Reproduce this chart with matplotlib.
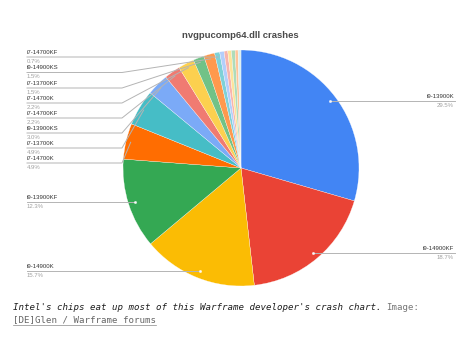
#!/usr/bin/env python3
"""Pie chart of nvgpucomp64.dll crashes per CPU model (Google Sheets look)."""
import numpy as np
import matplotlib
matplotlib.use("Agg")
import matplotlib.pyplot as plt

# ---- data (clockwise from 12 o'clock) ----
CPUS = ["i9-13900K", "i9-14900KF", "i9-14900K", "i9-13900KF", "i7-14700K",
        "i7-13700K", "i9-13900KS", "i7-14700KF", "i7-14700K", "i7-13700KF",
        "i9-14900KS", "i7-14700KF"]
SHARE = [29.5, 18.7, 15.7, 12.3, 4.9, 4.9, 3.0, 2.2, 2.2, 1.5, 1.5, 0.7]
# unlabelled slivers at the end of the pie
TINY = [0.6, 0.5, 0.5, 0.5, 0.4, 0.4]

COLORS = ["#4285F4", "#EA4335", "#FBBC04", "#34A853", "#FF6D01", "#46BDC6",
          "#7BAAF7", "#F07B72", "#FCD04F", "#71C287", "#FF994D", "#7ED1D7",
          "#B3CEFB", "#F7B4AE", "#FDE49B", "#AEDCBA", "#FFC599", "#D9EEF0"]

TITLE = "nvgpucomp64.dll crashes"
CAPTION = "Intel's chips eat up most of this Warframe developer's crash chart."
CREDIT = "[DE]Glen / Warframe forums"

# which labels sit on the right (big slices anchored horizontally)
RIGHT = {0, 1}
LEFT_BIG = {2, 3}
# stacked label rows for the small left-hand slices (pixel y of the rule)
SMALL_ROWS = {11: 57, 10: 72.5, 9: 88, 8: 103, 7: 118, 6: 133, 5: 148, 4: 163}

W, H = 474, 339
CX, CY, R = 241, 168, 118
LINE = "#b4b4b4"
NAME_C = "#333333"
PCT_C = "#a0a0a0"
FONT = "Liberation Sans"

fig = plt.figure(figsize=(W / 100, H / 100), dpi=100)
ax = fig.add_axes([0, 0, 1, 1])

values = SHARE + TINY
ax.pie(values, colors=COLORS[:len(values)], startangle=-90, counterclock=True,
       center=(CX, CY), radius=R, frame=True,
       wedgeprops=dict(edgecolor="white", linewidth=0.2))
ax.set_xlim(0, W)
ax.set_ylim(H, 0)
ax.axis("off")

total = float(sum(values))
cum = np.cumsum([0] + values)


def anchor(i, rf):
    mid = (cum[i] + values[i] / 2) / total
    th = np.deg2rad(-90 + 360 * mid)
    return CX + rf * R * np.cos(th), CY + rf * R * np.sin(th)


def label(x, y, name, pct, ha):
    ax.text(x, y - 4.6, name, ha=ha, va="center", fontsize=4.3,
            color=NAME_C, family=FONT)
    ax.text(x, y + 4.4, pct, ha=ha, va="center", fontsize=4.3,
            color=PCT_C, family=FONT)


for i, (name, v) in enumerate(zip(CPUS, SHARE)):
    pct = f"{v:.1f}%"
    if i in RIGHT:
        ax_, ay = anchor(i, 0.94)
        ax.plot([ax_, 455], [ay, ay], color=LINE, lw=0.7)
        ax.plot(ax_, ay, "o", ms=1.2, color="white", alpha=0.7)
        label(454, ay, name, pct, "right")
    elif i in LEFT_BIG:
        ax_, ay = anchor(i, 0.94)
        ax.plot([27, ax_], [ay, ay], color=LINE, lw=0.7)
        ax.plot(ax_, ay, "o", ms=1.2, color="white", alpha=0.7)
        label(27, ay, name, pct, "left")
    else:
        ly = SMALL_ROWS[i]
        ax_, ay = anchor(i, 0.96)
        ax.plot([27, 122, ax_], [ly, ly, ay], color=LINE, lw=0.7)
        label(27, ly, name, pct, "left")

ax.text(240, 35, TITLE, ha="center", va="center", fontsize=6.8,
        fontweight="bold", color="#4a4a4a", family=FONT)

# caption under the chart
cap = ax.text(13, 308, CAPTION, ha="left", va="center", fontsize=6.6,
              style="italic", color="#1e1e1e", family="DejaVu Sans Mono")
fig.canvas.draw()
bb = cap.get_window_extent().transformed(ax.transData.inverted())
ax.text(bb.x1 + 5, 308, "Image:", ha="left", va="center", fontsize=6.6,
        color="#777777", family="DejaVu Sans Mono")
cred = ax.text(13, 320, CREDIT, ha="left", va="center", fontsize=6.6,
               color="#666666", family="DejaVu Sans Mono")
fig.canvas.draw()
cb = cred.get_window_extent().transformed(ax.transData.inverted())
ax.plot([cb.x0, cb.x1], [324.5, 324.5], color="#888888", lw=0.5)

fig.savefig("out.png", dpi=100, facecolor="white")
